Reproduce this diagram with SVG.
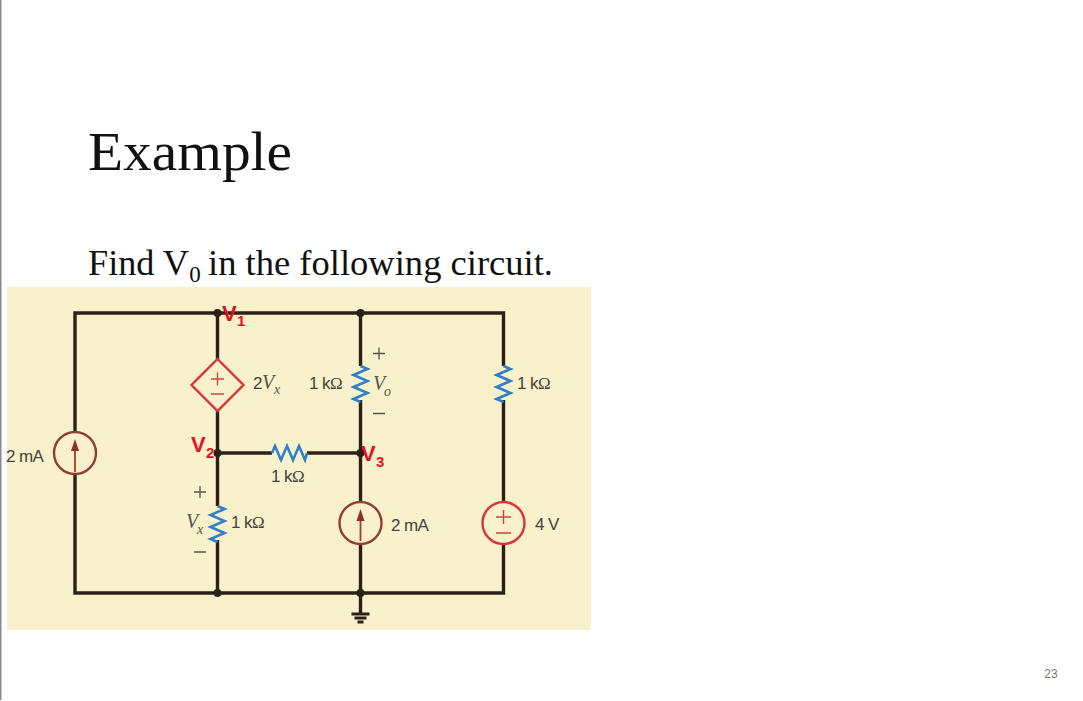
<svg xmlns="http://www.w3.org/2000/svg" width="1083" height="701" viewBox="0 0 1083 701">
<style>
.wire{fill:none;stroke:#2c2117;stroke-width:3.4}
.res{fill:none;stroke:#2f7fc9;stroke-width:2.6}
.src{fill:#f9f1cb;stroke:#8f3f35;stroke-width:2.4}
.vs{fill:#f9f1cb;stroke:#d9343a;stroke-width:2.4}
.sign{fill:none;stroke:#c9453f;stroke-width:1.4}
.shaft{fill:none;stroke:#a8382f;stroke-width:1.8}
.head{fill:#8f2f2c}
.pm{fill:none;stroke:#55544a;stroke-width:1.3}
.dot{fill:#2c2117}
text{font-family:"Liberation Sans",sans-serif}
.lbl{font-size:17px;fill:#45443c;letter-spacing:-.6px}
.om{font-family:"Liberation Serif",serif}
.var{font-family:"Liberation Serif",serif;font-style:italic;font-size:20px;fill:#55544a}
.sub{font-family:"Liberation Serif",serif;font-style:italic;font-size:14px;fill:#55544a}
.node{font-size:22px;font-weight:bold;fill:#e2121f}
.nsub{font-size:15px;font-weight:bold;fill:#e2121f}
.serif{font-family:"Liberation Serif",serif;fill:#111}
</style>
<rect width="1083" height="701" fill="#fff"/>
<rect x="0" y="0" width="1.5" height="700" fill="#8a8a8a"/>
<rect x="7" y="287" width="584" height="343" fill="#f9f1cb"/>
<text class="serif" x="88" y="170" font-size="55" textLength="204" lengthAdjust="spacingAndGlyphs">Example</text>
<text class="serif" x="88" y="275" font-size="36" textLength="101" lengthAdjust="spacingAndGlyphs">Find V</text>
<text class="serif" x="195" y="282" font-size="23" text-anchor="middle">0</text>
<text class="serif" x="208" y="275" font-size="36" textLength="345" lengthAdjust="spacingAndGlyphs">in the following circuit.</text>
<text x="1051" y="678" font-size="12" fill="#777" text-anchor="middle">23</text>
<g id="connectors">
<path class="wire" d="M75 432V313H503.5V366M503.5 400V502M503.5 544V593H75V474"/>
<path class="wire" d="M217.5 313V359M217.5 411V506M217.5 540V593"/>
<path class="wire" d="M360.5 313V366M360.5 400V502M360.5 544V613"/>
<path class="wire" d="M217.5 453H272M307 453H360.5"/>
</g>
<g id="junctions">
<circle class="dot" cx="217.5" cy="313" r="4"/><circle class="dot" cx="360.5" cy="313" r="4"/>
<circle class="dot" cx="217.5" cy="453" r="4"/><circle class="dot" cx="360.5" cy="453" r="4"/>
<circle class="dot" cx="217.5" cy="593" r="4"/><circle class="dot" cx="360.5" cy="593" r="4"/>
</g>
<g id="source-2mA-left">
<circle class="src" cx="75" cy="453" r="21"/>
<path class="shaft" d="M75 472V448"/><path class="head" d="M75 439l4 12h-8z"/>
<text class="lbl" x="6" y="462">2 mA</text>
</g>
<g id="source-dependent">
<path class="vs" d="M217.5 359l26 26-26 26-26-26z"/>
<path class="sign" d="M211 379h13M217.5 372.500v13M211 394h13"/>
<text class="lbl" x="253" y="389">2</text><text class="var" x="262" y="389">V</text><text class="sub" x="274" y="394">x</text>
</g>
<g id="resistor-vo">
<path class="res" d="M360.500 366l7 3-14 6 14 6-14 6 14 6-14 6 7 3"/>
<text class="lbl" x="309" y="389">1 k<tspan class="om">Ω</tspan></text>
<path class="pm" d="M373 353.500h12M379 347.500v12M373 413.500h12"/>
<text class="var" x="373" y="390">V</text><text class="sub" x="384" y="396">o</text>
</g>
<g id="resistor-right">
<path class="res" d="M503.500 366l7 3-14 6 14 6-14 6 14 6-14 6 7 3"/>
<text class="lbl" x="517" y="389">1 k<tspan class="om">Ω</tspan></text>
</g>
<g id="resistor-middle">
<path class="res" d="M272 453l3-7 6 14 6-14 6 14 6-14 6 14 2-7"/>
<text class="lbl" x="271" y="482">1 k<tspan class="om">Ω</tspan></text>
</g>
<g id="resistor-vx">
<path class="res" d="M217.500 506l7 3-14 6 14 6-14 6 14 6-14 6 7 3"/>
<text class="lbl" x="231" y="528">1 k<tspan class="om">Ω</tspan></text>
<path class="pm" d="M194 492h12M200 486v12M194 552h12"/>
<text class="var" x="186" y="528">V</text><text class="sub" x="197" y="534">x</text>
</g>
<g id="source-2mA-middle">
<circle class="src" cx="360.500" cy="523" r="21"/>
<path class="shaft" d="M360.500 541V518"/><path class="head" d="M360.500 509l4 12h-8z"/>
<text class="lbl" x="391" y="531">2 mA</text>
</g>
<g id="source-4V">
<circle class="vs" cx="503.500" cy="523" r="21"/>
<path class="sign" d="M496 517h15M503.500 510v14M496 533h15"/>
<text class="lbl" x="535" y="530">4 V</text>
</g>
<g id="ground">
<path d="M351.500 614h18M354.500 618h12M357.500 622h6" fill="none" stroke="#2c2117" stroke-width="3.200"/>
</g>
<g id="node-labels">
<text class="node" x="222" y="321">V</text><text class="nsub" x="237" y="326">1</text>
<text class="node" x="191" y="452">V</text><text class="nsub" x="206" y="458">2</text>
<text class="node" x="361" y="461">V</text><text class="nsub" x="376" y="467">3</text>
</g>
</svg>
